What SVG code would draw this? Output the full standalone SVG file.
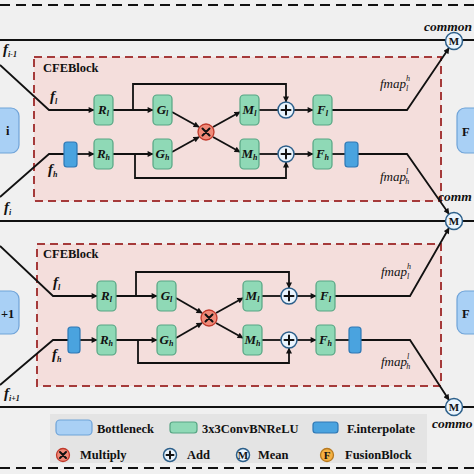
<svg xmlns="http://www.w3.org/2000/svg" width="474" height="474" viewBox="0 0 474 474">
<defs>
<marker id="ah" viewBox="0 0 10 10" refX="9" refY="5" markerWidth="7" markerHeight="6" markerUnits="userSpaceOnUse" orient="auto"><path d="M0,0 L10,5 L0,10 z" fill="#111"/></marker>
<style>
.bg{fill:#f0f0f0}
.cfe{fill:#f4dedc;stroke:#a53a3a;stroke-width:2;stroke-dasharray:8 5}
.conv{fill:#8fd9b6;stroke:#56a583;stroke-width:1.2}
.bott{fill:#a9d0f5;stroke:#6fa3d8;stroke-width:1.2}
.interp{fill:#4aa3df;stroke:#2e78b5;stroke-width:1.2}
.mul{fill:#f08a78;stroke:#c0392b;stroke-width:1.3}
.add{fill:#eaf4fd;stroke:#2c5f8a;stroke-width:1.5}
.fus{fill:#f5b041;stroke:#b7791f;stroke-width:1.3}
.sym{stroke:#111;stroke-width:2;fill:none;stroke-linecap:round}
.ln{fill:none;stroke:#111;stroke-width:1.8}
.arr{fill:none;stroke:#111;stroke-width:1.8;marker-end:url(#ah)}
.rule{stroke:#111;stroke-width:2}
.dash{stroke:#111;stroke-width:2;stroke-dasharray:10 6}
text{font-family:"Liberation Serif","Times New Roman",serif;fill:#111}
.t{font-weight:bold;font-size:12.5px}
.s{font-weight:bold;font-style:italic;font-size:13px}
.f{font-weight:bold;font-style:italic;font-size:15px}
.fm{font-style:italic;font-size:13px}
.cm{font-weight:bold;font-style:italic;font-size:13.5px}
.sb{font-size:8px}
.ic{font-weight:bold;font-size:11px}
</style>
</defs>
<rect class="bg" x="0" y="0" width="474" height="474"/>
<line class="dash" x1="0" y1="5" x2="474" y2="5"/>
<line class="dash" x1="0" y1="468" x2="474" y2="468"/>
<g id="rules">
<line class="rule" x1="0" y1="40" x2="474" y2="40"/>
<line class="rule" x1="0" y1="221" x2="474" y2="221"/>
<line class="rule" x1="0" y1="407" x2="474" y2="407"/>
</g>

<g id="cfe1"><rect class="cfe" x="34" y="57" width="407" height="144"/><text class="t" x="43" y="72">CFEBlock</text></g>
<g id="cfe2"><rect class="cfe" x="37" y="244" width="404" height="142"/><text class="t" x="43" y="258">CFEBlock</text></g>

<g id="enc1"><rect class="bott" x="-20" y="108" width="39" height="45" rx="8"/><text class="t" x="6" y="135" font-size="14">i</text></g>
<g id="enc2"><rect class="bott" x="-20" y="291" width="39" height="43" rx="8"/><text class="t" x="1" y="318">+1</text></g>
<g id="fb1"><rect class="bott" x="457" y="108" width="40" height="45" rx="8"/><text class="t" x="462" y="136" font-size="15">F</text></g>
<g id="fb2"><rect class="bott" x="457" y="291" width="40" height="43" rx="8"/><text class="t" x="462" y="318" font-size="15">F</text></g>

<g id="connectors">
<path class="arr" d="M0,65 L49,110 L94,110"/>
<path class="ln" d="M0,197 L49,154 L64,154"/>
<path class="arr" d="M77,154 L94,154"/>
<path class="arr" d="M113,110 L153,110"/>
<path class="arr" d="M113,154 L153,154"/>
<path class="arr" d="M133,110 V84 H286 V102"/>
<path class="arr" d="M135,154 V178 H286 V162"/>
<path class="arr" d="M172,112 L199,127"/>
<path class="arr" d="M172,152 L199,137"/>
<path class="arr" d="M213,127 L240,112"/>
<path class="arr" d="M213,137 L240,152"/>
<path class="ln" d="M259,110 H278"/>
<path class="arr" d="M294,110 H313"/>
<path class="ln" d="M259,154 H278"/>
<path class="arr" d="M294,154 H313"/>
<path class="arr" d="M332,110 L407,110 L449,48"/>
<path class="ln" d="M332,154 H345"/>
<path class="arr" d="M358,154 L407,154 L449,214"/>

<path class="arr" d="M0,246 L53,296 L97,296"/>
<path class="ln" d="M0,385 L53,340 L68,340"/>
<path class="arr" d="M80,340 L97,340"/>
<path class="arr" d="M116,296 L157,296"/>
<path class="arr" d="M116,340 L157,340"/>
<path class="arr" d="M136,296 V272 H289 V288"/>
<path class="arr" d="M138,340 V363 H289 V348"/>
<path class="arr" d="M176,298 L202,313"/>
<path class="arr" d="M176,338 L202,323"/>
<path class="arr" d="M216,313 L243,298"/>
<path class="arr" d="M216,323 L243,338"/>
<path class="ln" d="M262,296 H281"/>
<path class="arr" d="M297,296 H316"/>
<path class="ln" d="M262,340 H281"/>
<path class="arr" d="M297,340 H316"/>
<path class="arr" d="M335,296 L410,296 L449,228"/>
<path class="ln" d="M335,340 H349"/>
<path class="arr" d="M361,340 L410,340 L449,400"/>
</g>

<g id="b1-Rl"><rect class="conv" x="94" y="95" width="19" height="30" rx="4"/><text class="s" x="103.5" y="114" text-anchor="middle">R<tspan class="sb" dy="2">l</tspan></text></g>
<g id="b1-Gl"><rect class="conv" x="153" y="95" width="19" height="30" rx="4"/><text class="s" x="162.5" y="114" text-anchor="middle">G<tspan class="sb" dy="2">l</tspan></text></g>
<g id="b1-Ml"><rect class="conv" x="240" y="95" width="19" height="30" rx="4"/><text class="s" x="249.5" y="114" text-anchor="middle">M<tspan class="sb" dy="2">l</tspan></text></g>
<g id="b1-Fl"><rect class="conv" x="313" y="95" width="19" height="30" rx="4"/><text class="s" x="322.5" y="114" text-anchor="middle">F<tspan class="sb" dy="2">l</tspan></text></g>
<g id="b1-Rh"><rect class="conv" x="94" y="139" width="19" height="30" rx="4"/><text class="s" x="103.5" y="158" text-anchor="middle">R<tspan class="sb" dy="2">h</tspan></text></g>
<g id="b1-Gh"><rect class="conv" x="153" y="139" width="19" height="30" rx="4"/><text class="s" x="162.5" y="158" text-anchor="middle">G<tspan class="sb" dy="2">h</tspan></text></g>
<g id="b1-Mh"><rect class="conv" x="240" y="139" width="19" height="30" rx="4"/><text class="s" x="249.5" y="158" text-anchor="middle">M<tspan class="sb" dy="2">h</tspan></text></g>
<g id="b1-Fh"><rect class="conv" x="313" y="139" width="19" height="30" rx="4"/><text class="s" x="322.5" y="158" text-anchor="middle">F<tspan class="sb" dy="2">h</tspan></text></g>
<g id="b1-int1"><rect class="interp" x="64" y="142" width="13" height="25" rx="3"/></g>
<g id="b1-int2"><rect class="interp" x="345" y="142" width="13" height="25" rx="3"/></g>
<g id="b1-mul"><circle class="mul" cx="206" cy="132" r="8"/><path class="sym" d="M202.5,128.5 L209.5,135.5 M209.5,128.5 L202.5,135.5"/></g>
<g id="b1-add1"><circle class="add" cx="286" cy="110" r="8"/><path class="sym" d="M281.5,110 H290.5 M286,105.5 V114.5"/></g>
<g id="b1-add2"><circle class="add" cx="286" cy="154" r="8"/><path class="sym" d="M281.5,154 H290.5 M286,149.5 V158.5"/></g>

<g id="b2-Rl"><rect class="conv" x="97" y="281" width="19" height="30" rx="4"/><text class="s" x="106.5" y="300" text-anchor="middle">R<tspan class="sb" dy="2">l</tspan></text></g>
<g id="b2-Gl"><rect class="conv" x="157" y="281" width="19" height="30" rx="4"/><text class="s" x="166.5" y="300" text-anchor="middle">G<tspan class="sb" dy="2">l</tspan></text></g>
<g id="b2-Ml"><rect class="conv" x="243" y="281" width="19" height="30" rx="4"/><text class="s" x="252.5" y="300" text-anchor="middle">M<tspan class="sb" dy="2">l</tspan></text></g>
<g id="b2-Fl"><rect class="conv" x="316" y="281" width="19" height="30" rx="4"/><text class="s" x="325.5" y="300" text-anchor="middle">F<tspan class="sb" dy="2">l</tspan></text></g>
<g id="b2-Rh"><rect class="conv" x="97" y="325" width="19" height="30" rx="4"/><text class="s" x="106.5" y="344" text-anchor="middle">R<tspan class="sb" dy="2">h</tspan></text></g>
<g id="b2-Gh"><rect class="conv" x="157" y="325" width="19" height="30" rx="4"/><text class="s" x="166.5" y="344" text-anchor="middle">G<tspan class="sb" dy="2">h</tspan></text></g>
<g id="b2-Mh"><rect class="conv" x="243" y="325" width="19" height="30" rx="4"/><text class="s" x="252.5" y="344" text-anchor="middle">M<tspan class="sb" dy="2">h</tspan></text></g>
<g id="b2-Fh"><rect class="conv" x="316" y="325" width="19" height="30" rx="4"/><text class="s" x="325.5" y="344" text-anchor="middle">F<tspan class="sb" dy="2">h</tspan></text></g>
<g id="b2-int1"><rect class="interp" x="68" y="327" width="12" height="26" rx="3"/></g>
<g id="b2-int2"><rect class="interp" x="349" y="327" width="12" height="26" rx="3"/></g>
<g id="b2-mul"><circle class="mul" cx="209" cy="318" r="8"/><path class="sym" d="M205.5,314.5 L212.5,321.5 M212.5,314.5 L205.5,321.5"/></g>
<g id="b2-add1"><circle class="add" cx="289" cy="296" r="8"/><path class="sym" d="M284.5,296 H293.5 M289,291.5 V300.5"/></g>
<g id="b2-add2"><circle class="add" cx="289" cy="340" r="8"/><path class="sym" d="M284.5,340 H293.5 M289,335.5 V344.5"/></g>

<g id="mean1"><circle class="add" cx="454" cy="41" r="8.5"/><text class="ic" x="454" y="45" text-anchor="middle">M</text></g>
<g id="mean2"><circle class="add" cx="454" cy="221" r="8.5"/><text class="ic" x="454" y="225" text-anchor="middle">M</text></g>
<g id="mean3"><circle class="add" cx="454" cy="407" r="8.5"/><text class="ic" x="454" y="411" text-anchor="middle">M</text></g>

<g id="labels">
<text class="f" x="3" y="54">f<tspan class="sb" font-size="9" dy="3">i-1</tspan></text>
<text class="f" x="50" y="101">f<tspan class="sb" font-size="9" dy="3">l</tspan></text>
<text class="f" x="48" y="174">f<tspan class="sb" font-size="9" dy="3">h</tspan></text>
<text class="f" x="4" y="212">f<tspan class="sb" font-size="9" dy="3">i</tspan></text>
<text class="f" x="53" y="287">f<tspan class="sb" font-size="9" dy="3">l</tspan></text>
<text class="f" x="52" y="359">f<tspan class="sb" font-size="9" dy="3">h</tspan></text>
<text class="f" x="4" y="398">f<tspan class="sb" font-size="9" dy="3">i+1</tspan></text>
<text class="fm" x="380" y="88">fmap<tspan class="sb" dy="-7">h</tspan><tspan class="sb" dx="-4" dy="10">l</tspan></text>
<text class="fm" x="380" y="181">fmap<tspan class="sb" dy="-7">l</tspan><tspan class="sb" dx="-3" dy="10">h</tspan></text>
<text class="fm" x="381" y="276">fmap<tspan class="sb" dy="-7">h</tspan><tspan class="sb" dx="-4" dy="10">l</tspan></text>
<text class="fm" x="381" y="366">fmap<tspan class="sb" dy="-7">l</tspan><tspan class="sb" dx="-3" dy="10">h</tspan></text>
<text class="cm" x="424" y="31">common</text>
<text class="cm" x="438" y="201">comm</text>
<text class="cm" x="432" y="428">commo</text>
</g>

<g id="legend">
<rect x="50" y="414" width="377" height="49" fill="#e4e4e4"/>
<rect class="bott" x="56" y="420" width="36" height="15" rx="4"/>
<text class="t" x="97" y="433">Bottleneck</text>
<rect class="conv" x="170" y="422" width="27" height="11" rx="3"/>
<text class="t" x="202" y="433">3x3ConvBNReLU</text>
<rect class="interp" x="313" y="422" width="25" height="11" rx="3"/>
<text class="t" x="347" y="433">F.interpolate</text>
<circle class="mul" cx="63" cy="455" r="6.5"/><path class="sym" d="M60,452 L66,458 M66,452 L60,458"/>
<text class="t" x="80" y="459">Multiply</text>
<circle class="add" cx="170" cy="455" r="6.5"/><path class="sym" d="M166.5,455 H173.5 M170,451.5 V458.5"/>
<text class="t" x="187" y="459">Add</text>
<circle class="add" cx="243" cy="455" r="6.5"/><text class="ic" x="243" y="459" text-anchor="middle" font-size="10">M</text>
<text class="t" x="258" y="459">Mean</text>
<circle class="fus" cx="327" cy="455" r="6.5"/><text class="ic" x="327" y="459" text-anchor="middle" font-size="10">F</text>
<text class="t" x="345" y="459">FusionBlock</text>
</g>
</svg>
